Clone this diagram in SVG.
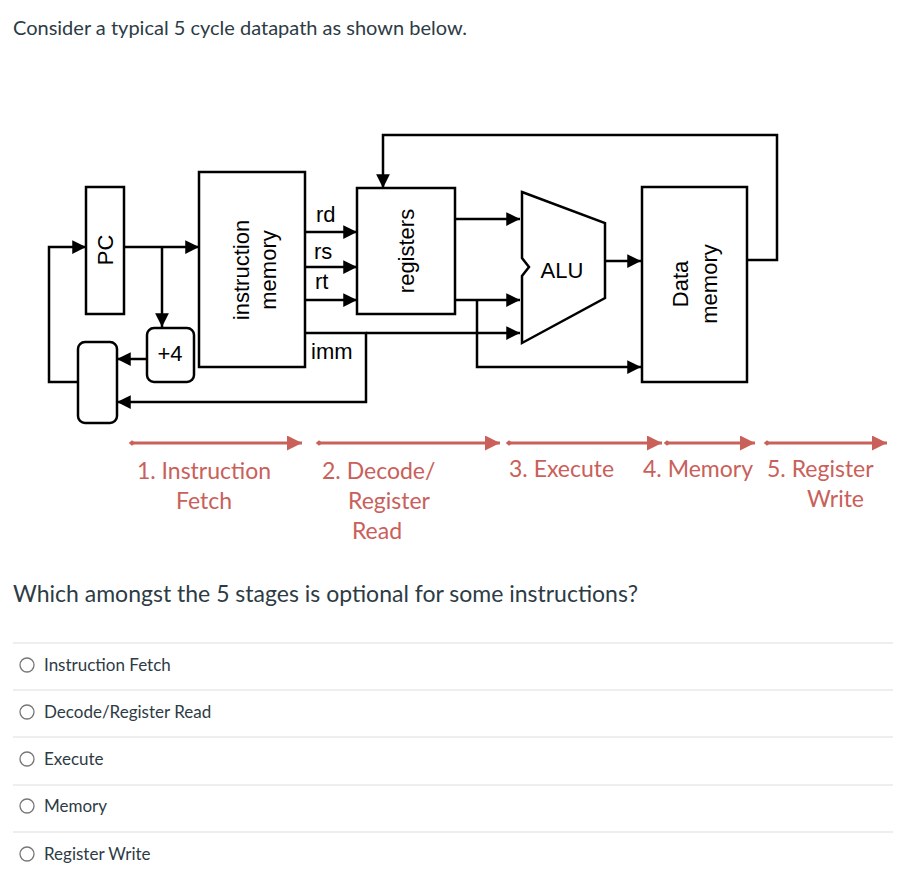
<svg xmlns="http://www.w3.org/2000/svg" width="907" height="890" viewBox="0 0 907 890">
<defs>
<style>
.b{fill:#fff;stroke:#000;stroke-width:2.5}
.w{fill:none;stroke:#000;stroke-width:2.5}
.r{fill:none;stroke:#c9605a;stroke-width:3}
.lab{font-family:"Liberation Sans",Arial,sans-serif;font-size:22px;fill:#000}
.st{font-family:Lato,"Open Sans",sans-serif;font-size:23px;fill:#c9605a}
.q{font-family:Lato,"Open Sans",sans-serif;fill:#2d3b45}
.sep{stroke:#ddd;stroke-width:1}
.rad{fill:#fff;stroke:#777;stroke-width:1.3}
</style>
<marker id="a" viewBox="0 0 10 10" refX="10" refY="5" markerWidth="5.5" markerHeight="5.5" orient="auto" markerUnits="strokeWidth"><path d="M0,0L10,5L0,10z" fill="#000"/></marker>
<marker id="ra" viewBox="0 0 10 10" refX="10" refY="5" markerWidth="5" markerHeight="5" orient="auto" markerUnits="strokeWidth"><path d="M0,0L10,5L0,10z" fill="#c9605a"/></marker>
<marker id="rd" viewBox="0 0 10 10" refX="5" refY="5" markerWidth="2.2" markerHeight="2.2" orient="auto" markerUnits="strokeWidth"><path d="M0,5L5,1L10,5L5,9z" fill="#c9605a"/></marker>
</defs>
<rect width="907" height="890" fill="#fff"/>
<text x="13" y="35" class="q" font-size="20">Consider a typical 5 cycle datapath as shown below.</text>

<g id="connectors">
<path class="w" d="M124,247H199" marker-end="url(#a)"/>
<path class="w" d="M162,247V327" marker-end="url(#a)"/>
<path class="w" d="M147,359H117" marker-end="url(#a)"/>
<path class="w" d="M78,382H49V247H86" marker-end="url(#a)"/>
<path class="w" d="M305,333H366V402H117" marker-end="url(#a)"/>
<path class="w" d="M366,333H520" marker-end="url(#a)"/>
<path class="w" d="M305,232H357" marker-end="url(#a)"/>
<path class="w" d="M305,267H357" marker-end="url(#a)"/>
<path class="w" d="M305,300H357" marker-end="url(#a)"/>
<path class="w" d="M455,219H520" marker-end="url(#a)"/>
<path class="w" d="M455,300H520" marker-end="url(#a)"/>
<path class="w" d="M477,300V367H641" marker-end="url(#a)"/>
<path class="w" d="M605,261H641" marker-end="url(#a)"/>
<path class="w" d="M747,260H777V135H383V188" marker-end="url(#a)"/>
</g>

<g id="pc"><rect class="b" x="86" y="187" width="38" height="127"/><text class="lab" transform="translate(113,250) rotate(-90)" text-anchor="middle">PC</text></g>
<g id="imem"><rect class="b" x="199" y="172" width="106" height="195"/><text class="lab" transform="translate(249,270) rotate(-90)" text-anchor="middle" font-size="24">instruction</text><text class="lab" transform="translate(276,270) rotate(-90)" text-anchor="middle" font-size="24">memory</text></g>
<g id="plus4"><rect class="b" x="147" y="328" width="47" height="54" rx="7"/><text class="lab" x="170" y="361" text-anchor="middle" font-size="14">+4</text></g>
<g id="mux"><rect class="b" x="78" y="342" width="39" height="81" rx="7"/></g>
<g id="regs"><rect class="b" x="357" y="188" width="98" height="126"/><text class="lab" transform="translate(414,251) rotate(-90)" text-anchor="middle" font-size="24">registers</text></g>
<g id="alu"><path class="b" d="M522,192L605,223V298L522,343V276L529,267L522,258Z"/><text class="lab" x="562" y="278" text-anchor="middle">ALU</text></g>
<g id="dmem"><rect class="b" x="642" y="187" width="105" height="195"/><text class="lab" transform="translate(688,284) rotate(-90)" text-anchor="middle" font-size="24">Data</text><text class="lab" transform="translate(717,284) rotate(-90)" text-anchor="middle" font-size="24">memory</text></g>
<g id="sig">
<text class="lab" x="316" y="222">rd</text>
<text class="lab" x="314" y="259">rs</text>
<text class="lab" x="315" y="289">rt</text>
<text class="lab" x="311" y="359">imm</text>
</g>

<g id="stages">
<path class="r" d="M132,443H302" marker-start="url(#rd)" marker-end="url(#ra)"/>
<path class="r" d="M319,443H500" marker-start="url(#rd)" marker-end="url(#ra)"/>
<path class="r" d="M509,443H662" marker-start="url(#rd)" marker-end="url(#ra)"/>
<path class="r" d="M667,443H755" marker-start="url(#rd)" marker-end="url(#ra)"/>
<path class="r" d="M767,443H887" marker-start="url(#rd)" marker-end="url(#ra)"/>
<text class="st" x="204" y="479" text-anchor="middle">1. Instruction</text>
<text class="st" x="204" y="509" text-anchor="middle">Fetch</text>
<text class="st" x="322" y="479">2. Decode/</text>
<text class="st" x="389" y="509" text-anchor="middle">Register</text>
<text class="st" x="377" y="539" text-anchor="middle">Read</text>
<text class="st" x="509" y="477">3. Execute</text>
<text class="st" x="643" y="477">4. Memory</text>
<text class="st" x="767" y="477">5. Register</text>
<text class="st" x="864" y="507" text-anchor="end">Write</text>
</g>

<text x="13" y="602" class="q" font-size="23">Which amongst the 5 stages is optional for some instructions?</text>
<g id="options">
<line class="sep" x1="13" y1="643" x2="893" y2="643"/>
<line class="sep" x1="13" y1="690" x2="893" y2="690"/>
<line class="sep" x1="13" y1="737" x2="893" y2="737"/>
<line class="sep" x1="13" y1="785" x2="893" y2="785"/>
<line class="sep" x1="13" y1="832" x2="893" y2="832"/>
<circle class="rad" cx="27" cy="665" r="7"/><text x="44" y="671" class="q" font-size="17">Instruction Fetch</text>
<circle class="rad" cx="27" cy="712" r="7"/><text x="44" y="718" class="q" font-size="17">Decode/Register Read</text>
<circle class="rad" cx="27" cy="759" r="7"/><text x="44" y="765" class="q" font-size="17">Execute</text>
<circle class="rad" cx="27" cy="806" r="7"/><text x="44" y="812" class="q" font-size="17">Memory</text>
<circle class="rad" cx="27" cy="854" r="7"/><text x="44" y="860" class="q" font-size="17">Register Write</text>
</g>
</svg>
